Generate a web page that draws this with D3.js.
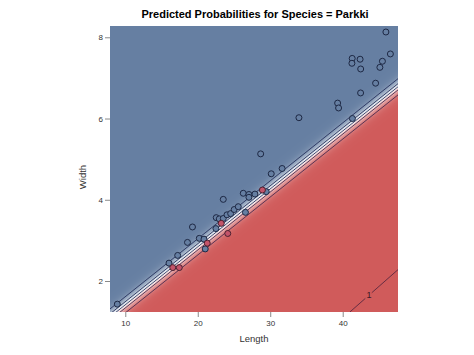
<!DOCTYPE html>
<html><head><meta charset="utf-8">
<script src="https://cdn.jsdelivr.net/npm/d3@7"></script>
<style>body{margin:0;background:#fff} text{font-family:Arial,"Liberation Sans",sans-serif}</style>
</head><body><svg id="c" width="474" height="355"></svg>
<script>
// ---- data ----
const xDomain = [7.89, 47.63];
const yDomain = [1.237, 8.278];
const xTicks = [10, 20, 30, 40];
const yTicks = [2, 4, 6, 8];
// observations: Length, Width, observed response (1 = Parkki)
const lengthObs = [8.90,16.03,17.23,18.58,19.27,20.21,20.86,21.03,22.51,22.55,22.97,23.52,24.03,24.54,25.03,25.59,23.52,26.58,26.28,27.06,27.06,27.89,29.45,28.68,30.14,31.64,33.96,39.30,39.43,41.34,41.31,42.40,41.27,42.48,45.48,45.13,44.54,42.47,45.96,46.58,
  16.55,17.45,21.31,23.24,24.14,28.92];
const widthObs  = [1.43,2.44,2.63,2.95,3.33,3.05,3.03,2.79,3.29,3.56,3.53,3.54,3.63,3.66,3.76,3.83,4.01,3.69,4.16,4.13,4.06,4.14,4.20,5.13,4.64,4.77,6.02,6.38,6.26,6.00,7.48,7.46,7.36,7.22,7.41,7.26,6.87,6.63,8.13,7.59,
  2.33,2.33,2.93,3.42,3.17,4.24];
const parkkiObs = [0,0,0,0,0,0,0,0,0,0,0,0,0,0,0,0,0,0,0,0,0,0,0,0,0,0,0,0,0,0,0,0,0,0,0,0,0,0,0,0,
  1,1,1,1,1,1];
// logistic model: logit = b0 + b1*Length + b2*Width
const coef = [-0.132, 1.569, -11.0];
const contourLevels = [0.1, 0.3, 0.5, 0.7, 0.9];
// separately labelled contour "1"
const levelOneLength = [40.99, 47.63];
const levelOneWidth = [1.237, 2.28];
const levelOneLabel = "1";

// ---- chart ----
const svg = d3.select("#c");
const m = {l:110, r:398, t:26, b:312};
const x = d3.scaleLinear().domain(xDomain).range([m.l, m.r]);
const y = d3.scaleLinear().domain(yDomain).range([m.b, m.t]);
const color = d3.piecewise(d3.interpolateRgb, ["#667FA2", "#FFFFFF", "#D05B5B"]);
const prob = (L, Wd) => 1 / (1 + Math.exp(-(coef[0] + coef[1]*L + coef[2]*Wd)));

// background probability surface
const cw = m.r - m.l, ch = m.b - m.t;
const canvas = document.createElement("canvas");
canvas.width = cw; canvas.height = ch;
const ctx = canvas.getContext("2d");
const img = ctx.createImageData(cw, ch);
for (let j = 0; j < ch; j++) {
  for (let i = 0; i < cw; i++) {
    const L = x.invert(m.l + i + 0.5), Wd = y.invert(m.t + j + 0.5);
    const c = d3.rgb(color(prob(L, Wd)));
    const k = (j*cw + i)*4;
    img.data[k] = c.r; img.data[k+1] = c.g; img.data[k+2] = c.b; img.data[k+3] = 255;
  }
}
ctx.putImageData(img, 0, 0);
svg.append("image").attr("x", m.l).attr("y", m.t).attr("width", cw).attr("height", ch)
  .attr("href", canvas.toDataURL());

svg.append("clipPath").attr("id", "clip").append("rect")
  .attr("x", m.l).attr("y", m.t).attr("width", cw).attr("height", ch);
const plot = svg.append("g").attr("clip-path", "url(#clip)");

// contour lines (straight for a linear logit)
const line = d3.line().x(d => x(d[0])).y(d => y(d[1]));
contourLevels.forEach(p => {
  const z = Math.log(p / (1 - p));
  const wAt = L => (z - coef[0] - coef[1]*L) / coef[2];
  const pts = xDomain.map(L => [L, wAt(L)]);
  plot.append("path").attr("d", line(pts)).attr("fill", "none")
    .attr("stroke", p > 0.5 ? "#4a2a4e" : "#26315c").attr("stroke-width", 0.9);
});
const onePts = levelOneLength.map((L, i) => [L, levelOneWidth[i]]);
plot.append("path").attr("d", line(onePts)).attr("fill", "none")
  .attr("stroke", "#5a2840").attr("stroke-width", 0.9);
const t = 0.4;
const lx = levelOneLength[0] + t*(levelOneLength[1]-levelOneLength[0]);
const ly = levelOneWidth[0] + t*(levelOneWidth[1]-levelOneWidth[0]);
plot.append("text").attr("x", x(lx)).attr("y", y(ly)).attr("dy", "0.35em")
  .attr("text-anchor", "middle").attr("font-size", 9).attr("fill", "#3a1a26")
  .attr("stroke", "#D05B5B").attr("stroke-width", 4).attr("paint-order", "stroke")
  .text(levelOneLabel);

// observations
plot.selectAll("circle.obs").data(lengthObs.map((L, i) => ({L, W: widthObs[i], r: parkkiObs[i]})))
  .join("circle").attr("class", "obs")
  .attr("cx", d => x(d.L)).attr("cy", d => y(d.W)).attr("r", 3)
  .attr("fill", d => d.r ? "#C4546A" : "#667FA2")
  .attr("stroke", d => d.r ? "#4a2030" : "#1d2844").attr("stroke-width", 1);

// axes
const fmt = d3.format("d");
const ax = svg.append("g").attr("transform", `translate(0,${m.b})`)
  .call(d3.axisBottom(x).tickValues(xTicks).tickFormat(fmt).tickSize(5).tickPadding(3).tickSizeOuter(0));
const ay = svg.append("g").attr("transform", `translate(${m.l},0)`)
  .call(d3.axisLeft(y).tickValues(yTicks).tickFormat(fmt).tickSize(5).tickPadding(2).tickSizeOuter(0));
[ax, ay].forEach(a => {
  a.select(".domain").remove();
  a.selectAll("line").attr("stroke", "#8a8a8a");
  a.selectAll("text").attr("font-size", 8).attr("fill", "#333").attr("font-family", "Arial,'Liberation Sans',sans-serif");
});

svg.append("text").attr("x", 254).attr("y", 342).attr("text-anchor", "middle")
  .attr("font-size", 9.5).attr("fill", "#333").text("Length");
svg.append("text").attr("transform", "translate(86,177) rotate(-90)").attr("text-anchor", "middle")
  .attr("font-size", 9.5).attr("fill", "#333").text("Width");
svg.append("text").attr("x", 255).attr("y", 18).attr("text-anchor", "middle")
  .attr("font-size", 11).attr("font-weight", "bold").attr("fill", "#000")
  .text("Predicted Probabilities for Species = Parkki");
</script></body></html>
